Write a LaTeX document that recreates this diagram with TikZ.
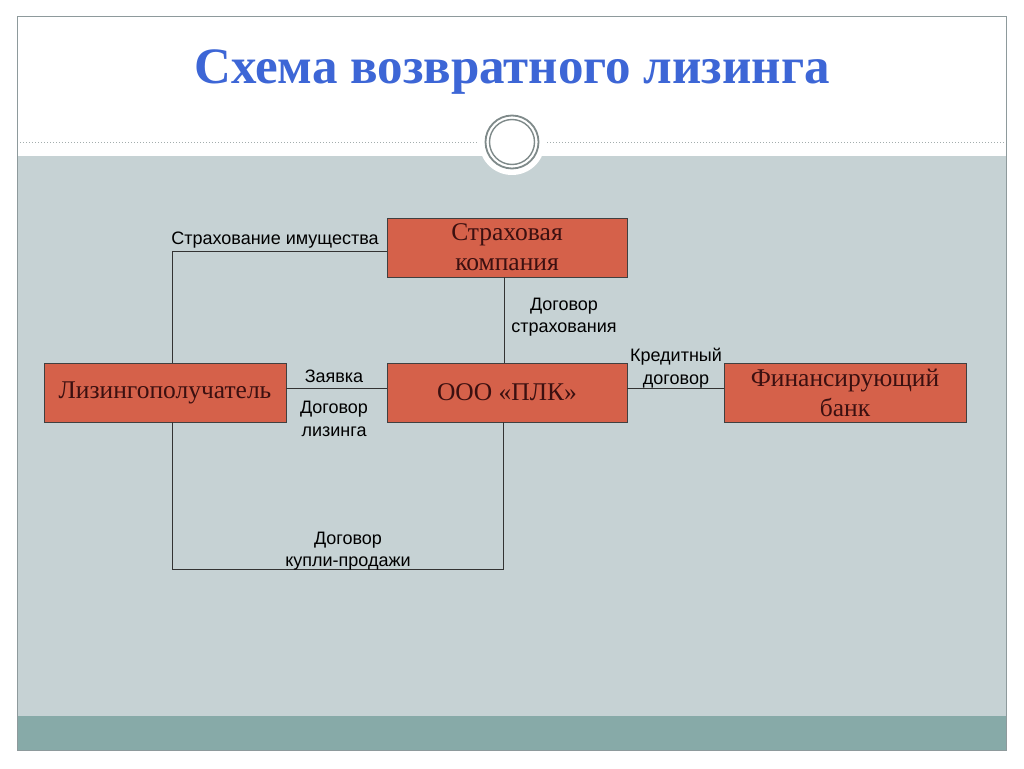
\documentclass[tikz,border=0pt]{standalone}
\usepackage{fontspec}
\setmainfont{Liberation Serif}
\setsansfont{Liberation Sans}
\definecolor{framegray}{HTML}{8E9A9C}
\definecolor{panelgray}{HTML}{C6D2D4}
\definecolor{bandteal}{HTML}{87AAA8}
\definecolor{boxfill}{HTML}{D5614A}
\definecolor{boxtext}{HTML}{3B1010}
\definecolor{titleblue}{HTML}{3D66D6}
\definecolor{ringgray}{HTML}{7F8A8A}
\definecolor{dotgray}{HTML}{A3ADAD}
\begin{document}
\begin{tikzpicture}[x=1pt,y=-1pt,
  entity/.style={draw=black!75,line width=0.9pt,fill=boxfill,text=boxtext,
    minimum height=59pt,inner sep=2pt,align=center,
    font=\fontsize{25.5}{30}\selectfont},
  lbl/.style={font=\sffamily\fontsize{18}{22.5}\selectfont,text=black,align=center,inner sep=0pt},
  conn/.style={draw=black!80,line width=0.9pt}]
\useasboundingbox (0,0) rectangle (1024,768);
\fill[white] (0,0) rectangle (1024,768);
% slide frame
\fill[panelgray] (17,156) rectangle (1006,716);
\fill[bandteal] (17,716) rectangle (1006,750);
\draw[dotgray,line width=1pt,dotted] (17,142.5) -- (480,142.5);
\draw[dotgray,line width=1pt,dotted] (544,142.5) -- (1006,142.5);
\fill[white] (512,142) circle (33);
\draw[ringgray,line width=1.8pt] (512,142) circle (26.5);
\draw[ringgray,line width=1.4pt] (512,142) circle (22.5);
\draw[framegray,line width=1pt] (17,17) rectangle (1006,750);
% title
\node[font=\bfseries\fontsize{51}{56}\selectfont,text=titleblue] (title) at (512,72) {Схема возвратного лизинга};
% boxes
\node[entity,minimum width=240pt] (ins) at (507,247.5) {Страховая\\компания};
\node[entity,minimum width=242pt] (lessee) at (165,392.5) {Лизингополучатель};
\node[entity,minimum width=240pt] (plk) at (507,392.5) {ООО «ПЛК»};
\node[entity,minimum width=242pt] (bank) at (845,392.5) {Финансирующий\\банк};
% connectors
\coordinate (bl) at (172,569);
\draw[conn] ([xshift=7pt]lessee.north) |- ([yshift=-3.5pt]ins.west);
\draw[conn] ([xshift=-3pt]ins.south) -- ([xshift=-3pt]plk.north);
\draw[conn] ([yshift=4.5pt]lessee.east) -- ([yshift=4.5pt]plk.west);
\draw[conn] ([yshift=4.5pt]plk.east) -- ([yshift=4.5pt]bank.west);
\draw[conn] ([xshift=7pt]lessee.south) -- (bl) -| ([xshift=-4pt]plk.south);
% labels
\node[lbl] (l1) at (275,240) {Страхование имущества};
\node[lbl] (l2) at (564,317) {Договор\\страхования};
\node[lbl] (l3) at (334,376) {Заявка};
\node[lbl] (l4) at (334,419) {Договор\\лизинга};
\node[lbl] (l5) at (676,368) {Кредитный\\договор};
\node[lbl] (l6) at (348,551) {Договор\\купли-продажи};
\end{tikzpicture}
\end{document}
